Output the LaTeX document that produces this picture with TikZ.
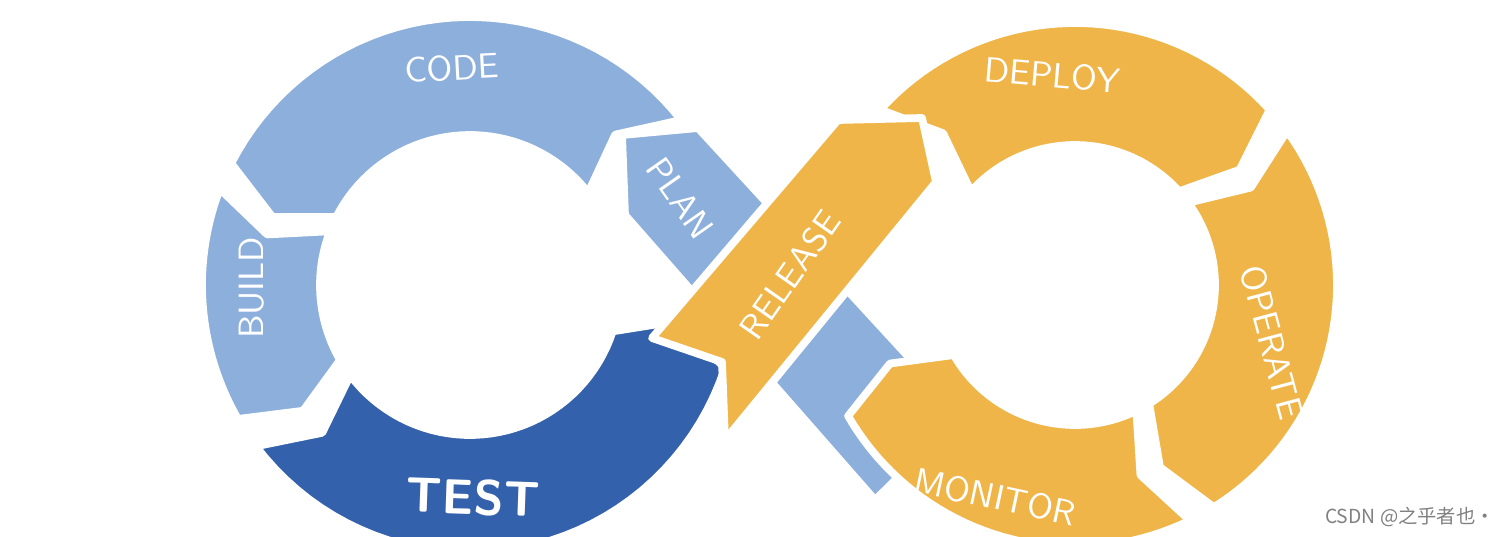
\documentclass[tikz,border=0pt]{standalone}
\usepackage{fontspec}
\setmainfont{Open Sans}
\newfontfamily\cjk{Noto Sans CJK SC}
\usetikzlibrary{positioning}

\definecolor{lightblue}{HTML}{8DAFDC}
\definecolor{darkblue}{HTML}{3361AB}
\definecolor{amber}{HTML}{F0B548}

\tikzset{
    seg/.style={fill=#1, draw=white, line width=2.2pt, line join=round},
    lbl/.style={text=white, font=\sffamily\fontsize{10}{10}\selectfont},
}

% style, centre, outer R, inner r, start, end, tip offset
\newcommand\ringseg[7]{%
\begin{scope}[shift={#2}]
    \path[seg=#1] plot[domain=#5:#6, samples=40] (\x:#3)
        -- ({#6+#7}:{(#3+#4)/2})
        -- plot[domain=#6:#5, samples=40] (\x:#4)
        -- ({#5+#7}:{(#3+#4)/2}) -- cycle;
\end{scope}}

\begin{document}
\begin{tikzpicture}[x=0.01cm, y=-0.01cm]
\useasboundingbox (0,0) rectangle (1500,536);
\clip (0,0) rectangle (1500,536);
% left loop
\ringseg{lightblue}{(470,285)}{268}{150}{322}{207}{-8}
\ringseg{lightblue}{(470,285)}{268}{150}{201}{150}{-7}
\ringseg{darkblue}{(470,285)}{268}{150}{143}{18}{-8}
% crossing band under
\path[seg=lightblue] (622,135) -- (698,128) -- (962,415) -- (875,500) -- (625,215) -- cycle;
% right loop
\ringseg{amber}{(1075,285)}{262}{140}{222}{318}{7}
\ringseg{amber}{(1075,285)}{262}{140}{324}{418}{7}
\ringseg{amber}{(1075,285)}{262}{140}{64}{150}{7}
% crossing band over
\path[seg=amber] (652,338) -- (838,120) -- (922,118) -- (936,182) -- (725,440) -- (722,362) -- cycle;
% labels
\node[lbl, rotate=3] (code) at (452,68) {CODE};
\node[lbl, rotate=90] (build) at (252,288) {BUILD};
\node[lbl, rotate=-2, font=\sffamily\bfseries\fontsize{14}{14}\selectfont] (test) at (473,497) {TEST};
\node[lbl, rotate=-55] (plan) at (680,198) {PLAN};
\node[lbl, rotate=55] (release) at (790,275) {RELEASE};
\node[lbl, rotate=-5] (deploy) at (1052,75) {DEPLOY};
\node[lbl, rotate=-75] (operate) at (1272,342) {OPERATE};
\node[lbl, rotate=-12] (monitor) at (995,497) {MONITOR};
\node[text=gray, font=\cjk\fontsize{5.5}{5.5}\selectfont] (mark) at (1410,517) {CSDN @之乎者也·};
\end{tikzpicture}
\end{document}
